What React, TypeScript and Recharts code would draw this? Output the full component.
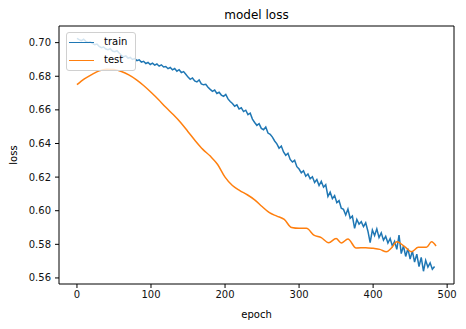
import React from 'react';
import { LineChart, Line, XAxis, YAxis, ReferenceArea } from 'recharts';

// train loss sampled every 3 epochs (0, 3, ..., 483)
const trainLoss = [
  0.7025, 0.7018, 0.7012, 0.7020, 0.7008, 0.7001, 0.7005, 0.6995, 0.6988, 0.6992,
  0.6978, 0.6970, 0.6974, 0.6962, 0.6958, 0.6964, 0.6950, 0.6946, 0.6952, 0.6938,
  0.6925, 0.6916, 0.6921, 0.6908, 0.6912, 0.6900, 0.6905, 0.6893, 0.6898, 0.6884,
  0.6889, 0.6876, 0.6882, 0.6870, 0.6878, 0.6866, 0.6873, 0.6860, 0.6868, 0.6855,
  0.6858, 0.6845, 0.6852, 0.6838, 0.6846, 0.6830, 0.6839, 0.6822, 0.6828, 0.6812,
  0.6795, 0.6782, 0.6790, 0.6772, 0.6766, 0.6778, 0.6755, 0.6749, 0.6752, 0.6735,
  0.6722, 0.6710, 0.6718, 0.6698, 0.6705, 0.6688, 0.6680, 0.6692, 0.6665, 0.6650,
  0.6638, 0.6622, 0.6630, 0.6605, 0.6612, 0.6590, 0.6598, 0.6572, 0.6580, 0.6545,
  0.6525, 0.6508, 0.6518, 0.6490, 0.6482, 0.6498, 0.6462, 0.6455, 0.6438, 0.6415,
  0.6398, 0.6372, 0.6385, 0.6350, 0.6330, 0.6342, 0.6305, 0.6290, 0.6300, 0.6262,
  0.6248, 0.6225, 0.6238, 0.6205, 0.6218, 0.6190, 0.6202, 0.6168, 0.6185, 0.6150,
  0.6175, 0.6140, 0.6155, 0.6085, 0.6110, 0.6072, 0.6090, 0.6048, 0.6060, 0.6015,
  0.6008, 0.5975, 0.6010, 0.5955, 0.5968, 0.5895, 0.5948, 0.5920, 0.5935, 0.5905,
  0.5928, 0.5878, 0.5810, 0.5885, 0.5852, 0.5892, 0.5840, 0.5868, 0.5825, 0.5848,
  0.5808, 0.5835, 0.5790, 0.5818, 0.5770, 0.5855, 0.5745, 0.5790, 0.5728, 0.5775,
  0.5712, 0.5760, 0.5695, 0.5742, 0.5668, 0.5722, 0.5640, 0.5705, 0.5665, 0.5690,
  0.5652, 0.5668,
];

const testEpochs = [
  0, 10, 20, 30, 40, 50, 60, 70, 80, 90,
  100, 110, 120, 130, 140, 150, 160, 170, 180, 190,
  200, 210, 220, 230, 240, 250, 260, 270, 280, 290,
  300, 310, 320, 330, 340, 350, 357, 366, 377, 390,
  400, 409, 418, 425, 432, 443, 452, 461, 472, 479, 485,
];
const testLoss = [
  0.6750, 0.6785, 0.6810, 0.6832, 0.6842, 0.6840, 0.6828, 0.6808, 0.6780, 0.6745,
  0.6705, 0.6662, 0.6615, 0.6572, 0.6525, 0.6470, 0.6415, 0.6365, 0.6325, 0.6275,
  0.6200, 0.6150, 0.6120, 0.6095, 0.6065, 0.6025, 0.5988, 0.5968, 0.5948, 0.5900,
  0.5895, 0.5895, 0.5855, 0.5840, 0.5810, 0.5834, 0.5808, 0.5832, 0.5778, 0.5780,
  0.5776, 0.5770, 0.5756, 0.5780, 0.5815, 0.5785, 0.5756, 0.5782, 0.5782, 0.5815, 0.5790,
];

const xTicks = [0, 100, 200, 300, 400, 500];
const yTicks = [0.56, 0.58, 0.6, 0.62, 0.64, 0.66, 0.68, 0.7];
const seriesNames = ['train', 'test'];
const seriesColors = ['#1f77b4', '#ff7f0e'];

const trainData = trainLoss.map((v, i) => ({ epoch: i * 3, loss: v }));
const testData = testEpochs.map((e, i) => ({ epoch: e, loss: testLoss[i] }));

const X_DOMAIN: [number, number] = [-24.25, 509.25];
const Y_DOMAIN: [number, number] = [0.5564, 0.7099];
const FONT = '"DejaVu Sans", sans-serif';

const LegendBox = () => (
  <div
    style={{
      position: 'absolute',
      left: 66,
      top: 32,
      width: 68,
      height: 37,
      border: '1px solid #d0d0d0',
      borderRadius: 3,
      background: 'rgba(255,255,255,0.8)',
      fontFamily: FONT,
      fontSize: 10,
      color: '#000',
      zIndex: 2,
    }}
  >
    {seriesNames.map((n, i) => (
      <div key={n} style={{ position: 'absolute', left: 0, top: i * 18, height: 18, width: 68 }}>
        <div
          style={{
            position: 'absolute',
            left: 2,
            top: 9,
            width: 25,
            height: 0,
            borderTop: `1.5px solid ${seriesColors[i]}`,
          }}
        />
        <span style={{ position: 'absolute', left: 37, top: 3, lineHeight: '12px' }}>{n}</span>
      </div>
    ))}
  </div>
);

export default function App() {
  return (
    <div style={{ position: 'absolute', left: 0, top: 0, width: 466, height: 329, background: '#fff' }}>
      <LineChart width={466} height={329} margin={{ top: 26, right: 12, bottom: 0, left: 0 }}>
        <XAxis
          type="number"
          dataKey="epoch"
          domain={X_DOMAIN}
          ticks={xTicks}
          allowDuplicatedCategory={false}
          height={45}
          axisLine={false}
          tickLine={{ stroke: '#000' }}
          tickSize={4}
          tickMargin={3}
          tick={{ fill: '#111', fontSize: 10, fontFamily: FONT }}
        />
        <YAxis
          type="number"
          domain={Y_DOMAIN}
          ticks={yTicks}
          width={59}
          axisLine={false}
          tickLine={{ stroke: '#000' }}
          tickSize={4}
          tickMargin={4}
          tickFormatter={(v: number) => v.toFixed(2)}
          tick={{ fill: '#111', fontSize: 10, fontFamily: FONT }}
        />
        <ReferenceArea
          x1={X_DOMAIN[0]}
          x2={X_DOMAIN[1]}
          y1={Y_DOMAIN[0]}
          y2={Y_DOMAIN[1]}
          fill="none"
          stroke="#000"
          strokeWidth={1}
          fillOpacity={0}
        />
        <Line
          data={trainData}
          dataKey="loss"
          name="train"
          type="linear"
          stroke={seriesColors[0]}
          strokeWidth={1.5}
          dot={false}
          isAnimationActive={false}
        />
        <Line
          data={testData}
          dataKey="loss"
          name="test"
          type="monotone"
          stroke={seriesColors[1]}
          strokeWidth={1.5}
          dot={false}
          isAnimationActive={false}
        />
        <text x={256.5} y={19} textAnchor="middle" fontFamily={FONT} fontSize={12} fill="#000">
          model loss
        </text>
        <text x={256.5} y={318} textAnchor="middle" fontFamily={FONT} fontSize={10} fill="#000">
          epoch
        </text>
        <text
          x={17}
          y={155}
          textAnchor="middle"
          fontFamily={FONT}
          fontSize={10}
          fill="#000"
          transform="rotate(-90 17 155)"
        >
          loss
        </text>
      </LineChart>
      <LegendBox />
    </div>
  );
}
